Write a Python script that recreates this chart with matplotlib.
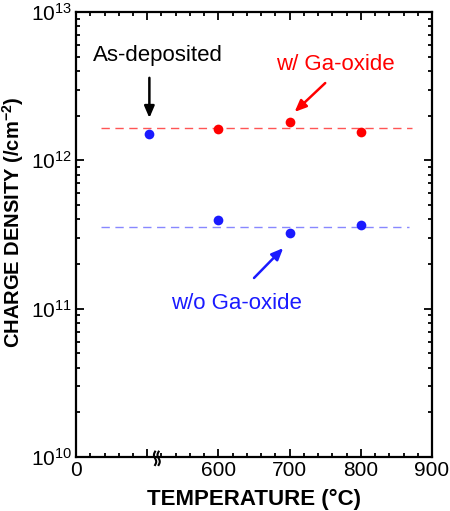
import numpy as np
import matplotlib
matplotlib.use('Agg')
import matplotlib.pyplot as plt
from matplotlib.ticker import FixedLocator, LogLocator, LogFormatterSciNotation, NullFormatter

plt.rcParams['font.family'] = ['Liberation Sans', 'DejaVu Sans']
plt.rcParams['mathtext.fontset'] = 'custom'
plt.rcParams['mathtext.rm'] = 'Liberation Sans'
plt.rcParams['mathtext.bf'] = 'Liberation Sans:bold'

# x positions on the broken axis: 400 is drawn as "0", as-deposited sits left of the break
asdep_x = 503
temps = [600, 700, 800]
asdep_value = 1.51e12
with_ga = [1.63e12, 1.81e12, 1.55e12]
without_ga = [3.98e11, 3.25e11, 3.68e11]
with_ga_level = 1.64e12
without_ga_level = 3.57e11

xtick_pos = [400, 500, 600, 700, 800, 900]
xtick_labels = ['0', '', '600', '700', '800', '900']

red = '#ff0000'
blue = '#1a1aff'

fig = plt.figure(figsize=(4.5, 5.11), dpi=100)
ax = fig.add_axes([0.169, 0.1057, 0.791, 0.8708])

ax.set_yscale('log')
ax.set_xlim(400, 900)
ax.set_ylim(1e10, 1e13)

# average level lines
ax.plot([435, 872], [with_ga_level] * 2, ls=(0, (6, 4)), color='#ff5555', lw=1.0)
ax.plot([435, 868], [without_ga_level] * 2, ls=(0, (6, 4)), color='#8888ff', lw=1.0)

ax.plot(temps, with_ga, 'o', color=red, ms=7, mec='none')
ax.plot(temps, without_ga, 'o', color=blue, ms=7, mec='none')
ax.plot([asdep_x], [asdep_value], 'o', color=blue, ms=7, mec='none')

# annotations
arrow_kw = dict(arrowstyle='-|>,head_length=0.7,head_width=0.3', lw=1.8, shrinkA=0, shrinkB=0)
ax.annotate('', xy=(asdep_x, 1.93e12), xytext=(asdep_x, 3.6e12),
            arrowprops=dict(color='black', **arrow_kw))
ax.annotate('', xy=(707, 2.12e12), xytext=(750, 3.32e12),
            arrowprops=dict(color=red, **arrow_kw))
ax.annotate('', xy=(691, 2.56e11), xytext=(650, 1.61e11),
            arrowprops=dict(color=blue, **arrow_kw))

ax.text(515, 5.1e12, 'As-deposited', ha='center', va='center', fontsize=16, color='black')
ax.text(764, 4.4e12, 'w/ Ga-oxide', ha='center', va='center', fontsize=16, color=red)
ax.text(626, 1.09e11, 'w/o Ga-oxide', ha='center', va='center', fontsize=16, color=blue)

# ticks
ax.xaxis.set_major_locator(FixedLocator(xtick_pos))
ax.set_xticklabels(xtick_labels)
ax.xaxis.set_minor_locator(FixedLocator(np.arange(420, 900, 20)))
ax.yaxis.set_major_locator(LogLocator(base=10))
ax.yaxis.set_major_formatter(LogFormatterSciNotation())
ax.yaxis.set_minor_locator(LogLocator(base=10, subs=np.arange(2, 10)))
ax.yaxis.set_minor_formatter(NullFormatter())
ax.tick_params(which='both', direction='in', top=True, right=True, width=1.3, labelsize=15)
ax.tick_params(which='major', length=6, pad=3)
ax.tick_params(which='minor', length=3)
for sp in ax.spines.values():
    sp.set_linewidth(1.6)

# axis break marks
t = np.linspace(0, 1, 30)
trans = ax.get_xaxis_transform()
for x0 in (511, 516):
    ax.plot(x0 + 1.6 * np.sin(2 * np.pi * t), -0.018 + 0.03 * t, color='black', lw=1.5,
            transform=trans, clip_on=False)

ax.set_xlabel('TEMPERATURE (°C)', fontsize=16, fontweight='bold', labelpad=6)
ax.set_ylabel('CHARGE DENSITY (/cm$^{\\mathbf{-2}}$)', fontsize=14.5, fontweight='bold')
ax.yaxis.set_label_coords(-0.14, 0.528)

fig.savefig('out.png', dpi=100)
